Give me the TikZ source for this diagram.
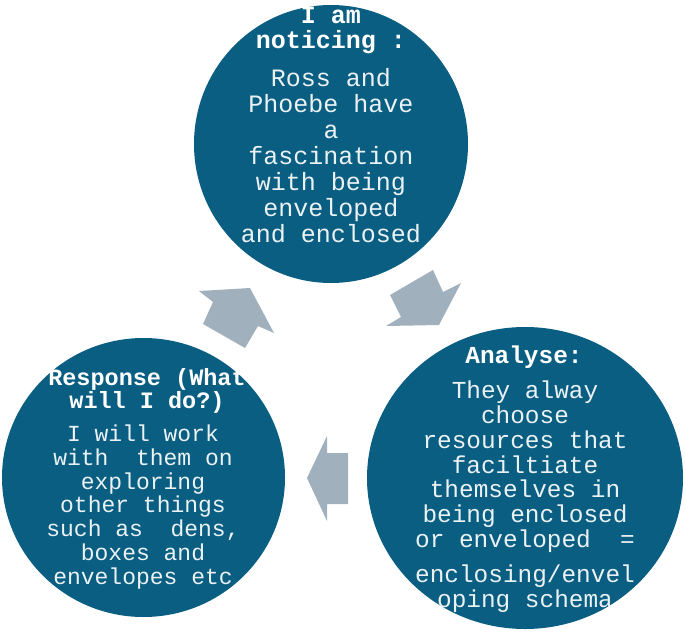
\documentclass[tikz,border=0pt]{standalone}
\usepackage{fontspec}
\setmainfont{Liberation Mono}
\setmonofont{Liberation Mono}
\usetikzlibrary{shapes.geometric}
\definecolor{circfill}{HTML}{0A5E81}
\definecolor{arrowfill}{HTML}{A1B0BD}
\tikzset{
  circ/.style={ellipse, fill=circfill, draw=none, inner sep=0pt},
  blockarrow/.style={fill=arrowfill, draw=none},
  ttl/.style={text=white, align=center, anchor=base, inner sep=0pt},
  bdy/.style={text=white!92!circfill, align=center, anchor=base, inner sep=0pt}
}
\begin{document}
\begin{tikzpicture}[x=1pt,y=-1pt]
\useasboundingbox (0,0) rectangle (685,632);
% circles
\node[circ, minimum width=274pt, minimum height=278pt] (top) at (331,144) {};
\node[circ, minimum width=316pt, minimum height=302pt] (right) at (525,478) {};
\node[circ, minimum width=283pt, minimum height=279pt] (left) at (143.5,477.5) {};
% block arrows
\fill[blockarrow] (199,291) -- (250,288) -- (274,333) -- (258,326) -- (245,348) -- (203,324) -- (213,302) -- cycle;
\fill[blockarrow] (433,270) -- (443,292) -- (461,283) -- (439,325) -- (386,326) -- (401,317) -- (390,295) -- cycle;
\fill[blockarrow] (327,436) -- (327,453) -- (348,453) -- (348,504) -- (327,504) -- (327,521) -- (307,478) -- cycle;
% top circle text (anchor = baseline of last line)
\node[ttl, font=\bfseries\fontsize{25}{25}\selectfont] (toptitle) at (331,48) {I am\\noticing :};
\node[bdy, font=\fontsize{25}{26}\selectfont] (topbody) at (331,242)
  {Ross and\\Phoebe have\\a\\fascination\\with being\\enveloped\\and enclosed};
% right circle text
\node[ttl, font=\bfseries\fontsize{24.4}{25}\selectfont] (righttitle) at (524,363) {Analyse:};
\node[bdy, font=\fontsize{24.4}{24.8}\selectfont] (rightbody) at (525,607)
  {They alway\\choose\\resources that\\faciltiate\\themselves in\\being enclosed\\or enveloped\ \ =\\[10pt]enclosing/envel\\oping schema};
% left circle text
\node[ttl, font=\bfseries\fontsize{23.5}{23}\selectfont] (lefttitle) at (147,408) {Response (What\\will I do?)};
\node[bdy, font=\fontsize{23}{23.7}\selectfont] (leftbody) at (143,584)
  {I will work\\with\ \ them on\\exploring\\other things\\such as\ \ dens,\\boxes and\\envelopes etc};
\end{tikzpicture}
\end{document}
